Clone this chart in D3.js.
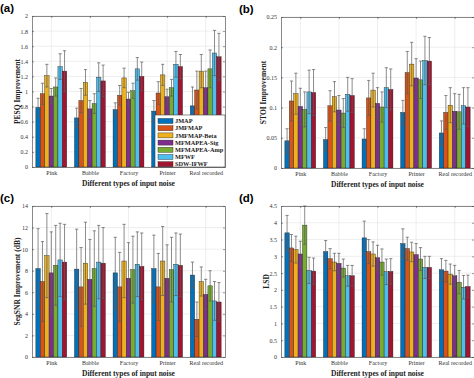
<!DOCTYPE html>
<html>
<head>
<meta charset="utf-8">
<script src="https://cdn.jsdelivr.net/npm/d3@7"></script>
<style>
	body { margin: 0; background: #fff; }
	svg { display: block; }
</style>
</head>
<body>
<svg width="474" height="378"></svg>
<script>

// data........................................................................

var noiseTypes = ["Pink", "Babble", "Factory", "Printer", "Real recorded"];

var methods = ["JMAP", "JMFMAP", "JMFMAP-Beta", "MFMAPEA-Sig",
	"MFMAPEA-Amp", "MFWF", "SDW-IFWF"];

var methodColors = ["#0072BD", "#D95319", "#EDB120", "#7E2F8E",
	"#77AC30", "#4DBEEE", "#A2142F"];

// one row per noise type, one value per method
var pesqMean = [
	[0.79, 0.97, 1.21, 0.94, 1.06, 1.33, 1.27],
	[0.65, 0.88, 1.12, 0.77, 0.84, 1.19, 1.14],
	[0.76, 0.95, 1.18, 0.90, 1.01, 1.30, 1.20],
	[0.74, 0.98, 1.22, 0.93, 1.05, 1.36, 1.33],
	[0.81, 1.02, 1.27, 1.05, 1.30, 1.51, 1.46]];
var pesqErr = [
	[0.12, 0.14, 0.15, 0.10, 0.12, 0.17, 0.27],
	[0.13, 0.16, 0.17, 0.11, 0.13, 0.19, 0.21],
	[0.09, 0.13, 0.13, 0.09, 0.10, 0.15, 0.19],
	[0.14, 0.15, 0.14, 0.10, 0.11, 0.17, 0.16],
	[0.25, 0.25, 0.22, 0.22, 0.25, 0.30, 0.31]];

var stoiMean = [
	[0.045, 0.111, 0.123, 0.102, 0.097, 0.126, 0.125],
	[0.047, 0.103, 0.118, 0.096, 0.091, 0.122, 0.120],
	[0.048, 0.116, 0.129, 0.107, 0.101, 0.133, 0.130],
	[0.092, 0.158, 0.172, 0.149, 0.146, 0.178, 0.177],
	[0.058, 0.092, 0.104, 0.094, 0.093, 0.103, 0.101]];
var stoiErr = [
	[0.020, 0.033, 0.034, 0.030, 0.029, 0.036, 0.038],
	[0.020, 0.025, 0.025, 0.024, 0.024, 0.028, 0.028],
	[0.017, 0.029, 0.028, 0.026, 0.025, 0.033, 0.034],
	[0.020, 0.035, 0.036, 0.032, 0.031, 0.040, 0.039],
	[0.020, 0.028, 0.029, 0.029, 0.029, 0.030, 0.032]];

var segsnrMean = [
	[8.2, 7.0, 9.4, 7.8, 8.5, 9.0, 8.8],
	[8.15, 6.5, 8.7, 7.2, 8.2, 8.8, 8.7],
	[7.8, 6.5, 8.9, 7.3, 8.1, 8.6, 8.4],
	[8.2, 6.5, 8.9, 7.3, 8.1, 8.6, 8.5],
	[7.6, 3.5, 7.0, 5.8, 6.6, 5.2, 5.1]];
var segsnrErr = [
	[3.7, 3.7, 3.9, 3.8, 3.7, 3.4, 3.5],
	[3.7, 3.65, 3.8, 3.7, 3.5, 3.4, 3.3],
	[3.3, 3.2, 3.4, 3.3, 3.1, 3.0, 3.1],
	[3.1, 3.1, 3.2, 3.1, 3.0, 2.9, 2.9],
	[1.2, 1.6, 1.35, 1.4, 1.4, 1.8, 1.8]];

var lsdMean = [
	[3.70, 3.25, 3.20, 3.07, 3.93, 2.58, 2.56],
	[3.14, 2.93, 2.83, 2.79, 2.65, 2.42, 2.42],
	[3.55, 3.14, 3.07, 2.96, 2.83, 2.54, 2.55],
	[3.38, 3.23, 3.13, 3.05, 2.92, 2.67, 2.67],
	[2.60, 2.56, 2.47, 2.42, 2.23, 2.08, 2.10]];
var lsdErr = [
	[0.52, 0.40, 0.40, 0.38, 0.57, 0.39, 0.39],
	[0.33, 0.30, 0.26, 0.30, 0.27, 0.31, 0.31],
	[0.50, 0.36, 0.36, 0.37, 0.39, 0.38, 0.38],
	[0.44, 0.34, 0.29, 0.33, 0.34, 0.33, 0.33],
	[0.33, 0.32, 0.30, 0.31, 0.35, 0.35, 0.34]];

// layout......................................................................

var svg = d3.select("svg"),
	W = 193, H = 151,
	serif = "'Liberation Serif', 'Times New Roman', serif",
	panels = [
		{tag: "(a)", mean: pesqMean, err: pesqErr, yMax: 2, yStep: 0.2,
		 label: "PESQ Improvement", left: 32, top: 16, tagX: 0, labelX: -12, legend: true},
		{tag: "(b)", mean: stoiMean, err: stoiErr, yMax: 0.25, yStep: 0.05,
		 label: "STOI Improvement", left: 281, top: 17, tagX: 239, labelX: -15},
		{tag: "(c)", mean: segsnrMean, err: segsnrErr, yMax: 14, yStep: 2,
		 label: "SegSNR Improvement (dB)", left: 32, top: 206, tagX: 0, labelX: -12},
		{tag: "(d)", mean: lsdMean, err: lsdErr, yMax: 4.5, yStep: 0.5,
		 label: "LSD", left: 281, top: 206, tagX: 239, labelX: -12}
	];

panels.forEach(drawPanel);

// draw functions..............................................................

function drawPanel(p){
	var g = svg.append("g")
			.attr("transform", "translate(" + p.left + "," + p.top + ")"),
		x = d3.scaleLinear().domain([0.5, noiseTypes.length + 0.5]).range([0, W]),
		y = d3.scaleLinear().domain([0, p.yMax]).range([H, 0]),
		yTicks = d3.range(0, p.yMax + p.yStep / 2, p.yStep),
		xTicks = d3.range(1, noiseTypes.length + 1),
		slot = 0.8 / methods.length,
		slotPx = x(1 + slot) - x(1);

	// panel tag
	svg.append("text")
		.attr("x", p.tagX)
		.attr("y", p.top - 4)
		.style("font-family", "'Liberation Sans', Arial, sans-serif")
		.style("font-weight", "bold")
		.style("font-size", "11.5px")
		.text(p.tag);

	// grid
	g.append("g").selectAll("line")
		.data(yTicks)
		.enter().append("line")
			.attr("x1", 0).attr("x2", W)
			.attr("y1", function(d) { return y(d); })
			.attr("y2", function(d) { return y(d); })
			.style("stroke", "#e3e3e3").style("stroke-width", 0.6);
	g.append("g").selectAll("line")
		.data(xTicks)
		.enter().append("line")
			.attr("y1", 0).attr("y2", H)
			.attr("x1", function(d) { return x(d); })
			.attr("x2", function(d) { return x(d); })
			.style("stroke", "#e3e3e3").style("stroke-width", 0.6);

	// bars
	var cells = [];
	p.mean.forEach(function(row, i){
		row.forEach(function(v, j){
			cells.push({cat: i + 1, k: j, v: v, e: p.err[i][j]});
		});
	});
	function barX(d) { return x(d.cat - 0.4 + d.k * slot); }

	g.append("g").selectAll("rect")
		.data(cells)
		.enter().append("rect")
			.attr("x", barX)
			.attr("y", function(d) { return y(d.v); })
			.attr("width", slotPx)
			.attr("height", function(d) { return H - y(d.v); })
			.style("fill", function(d) { return methodColors[d.k]; })
			.style("stroke", "#1e1e1e")
			.style("stroke-width", 0.4);

	// error bars
	var eb = g.append("g").selectAll("g")
		.data(cells)
		.enter().append("g")
			.style("stroke", "#5a5a5a")
			.style("stroke-width", 0.7);
	eb.append("line")
		.attr("x1", function(d) { return barX(d) + slotPx / 2; })
		.attr("x2", function(d) { return barX(d) + slotPx / 2; })
		.attr("y1", function(d) { return y(d.v - d.e); })
		.attr("y2", function(d) { return y(d.v + d.e); });
	[-1, 1].forEach(function(s){
		eb.append("line")
			.attr("x1", function(d) { return barX(d) + slotPx / 2 - 1.6; })
			.attr("x2", function(d) { return barX(d) + slotPx / 2 + 1.6; })
			.attr("y1", function(d) { return y(d.v + s * d.e); })
			.attr("y2", function(d) { return y(d.v + s * d.e); });
	});

	// axes
	var fmt = function(d) { return String(+d.toFixed(2)); };
	g.append("g")
		.call(d3.axisLeft(y).tickValues(yTicks).tickFormat(fmt)
			.tickSizeInner(-2).tickSizeOuter(0).tickPadding(4))
		.call(styleAxis);
	g.append("g")
		.attr("transform", "translate(" + W + ",0)")
		.call(d3.axisRight(y).tickValues(yTicks).tickFormat("")
			.tickSizeInner(-2).tickSizeOuter(0))
		.call(styleAxis);
	g.append("g")
		.attr("transform", "translate(0," + H + ")")
		.call(d3.axisBottom(x).tickValues(xTicks)
			.tickFormat(function(d) { return noiseTypes[d - 1]; })
			.tickSizeInner(-2).tickSizeOuter(0).tickPadding(4))
		.call(styleAxis);
	g.append("g")
		.call(d3.axisTop(x).tickValues(xTicks).tickFormat("")
			.tickSizeInner(-2).tickSizeOuter(0))
		.call(styleAxis);

	// axis titles
	g.append("text")
		.attr("transform", "translate(" + p.labelX + "," + H / 2 + ") rotate(-90)")
		.attr("text-anchor", "middle")
		.style("font-family", serif).style("font-weight", "bold")
		.style("font-size", "7.5px").style("fill", "#222")
		.text(p.label);
	g.append("text")
		.attr("x", W / 2).attr("y", H + 18.5)
		.attr("text-anchor", "middle")
		.style("font-family", serif).style("font-weight", "bold")
		.style("font-size", "7.5px").style("fill", "#222")
		.text("Different types of input noise");

	if(p.legend)
		drawLegend(g);
}

function styleAxis(a){
	a.select(".domain").style("stroke", "#3a3a3a").style("stroke-width", 0.6);
	a.selectAll(".tick line").style("stroke", "#3a3a3a").style("stroke-width", 0.5);
	a.selectAll("text")
		.style("font-family", serif)
		.style("font-size", "6px")
		.style("fill", "#333");
}

function drawLegend(g){
	var lx = 123, ly = 99, rowH = 7.2,
		leg = g.append("g").attr("transform", "translate(" + lx + "," + ly + ")");

	leg.append("rect")
		.attr("width", 70).attr("height", 52)
		.style("fill", "#fff")
		.style("stroke", "#444").style("stroke-width", 0.6);

	var row = leg.selectAll("g.row")
		.data(methods)
		.enter().append("g")
			.attr("class", "row")
			.attr("transform", function(d, i) {
				return "translate(0," + (3.5 + i * rowH) + ")"; });
	row.append("rect")
		.attr("x", 3).attr("width", 15).attr("height", 5)
		.style("fill", function(d, i) { return methodColors[i]; })
		.style("stroke", "#1e1e1e").style("stroke-width", 0.4);
	row.append("text")
		.attr("x", 20).attr("y", 4.6)
		.style("font-family", serif).style("font-weight", "bold")
		.style("font-size", "6.3px").style("fill", "#222")
		.text(function(d) { return d; });
}

</script>
</body>
</html>
